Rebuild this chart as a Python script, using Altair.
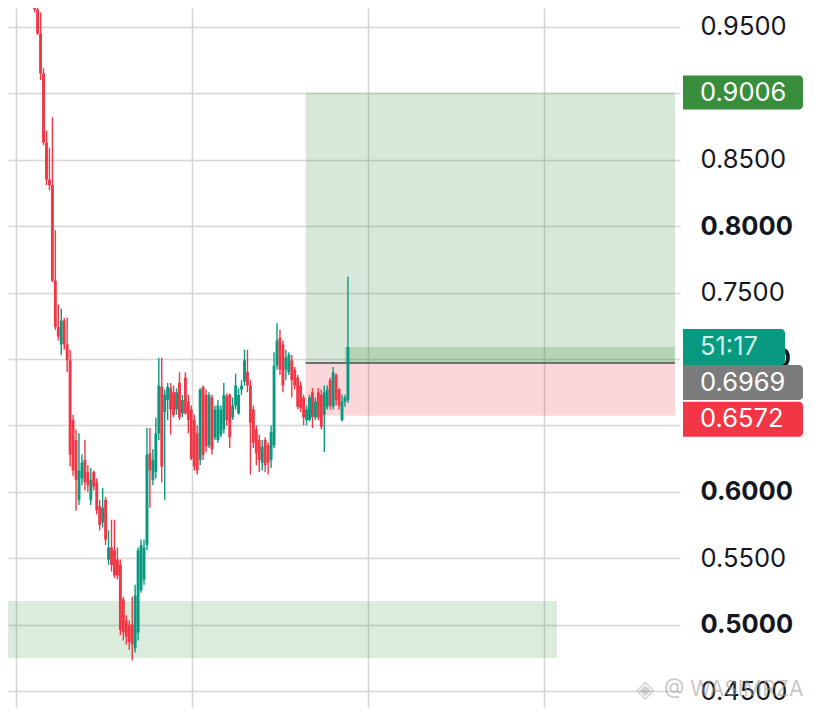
import altair as alt
import pandas as pd

# ---- candle data ----
opens = [0.993, 0.963, 0.945, 0.915, 0.863, 0.835, 0.831, 0.759, 0.724, 0.711,
         0.729, 0.711, 0.699, 0.654, 0.639, 0.594, 0.610, 0.624, 0.615, 0.594,
         0.615, 0.607, 0.589, 0.577, 0.594, 0.549, 0.558, 0.556, 0.549, 0.545,
         0.519, 0.503, 0.500, 0.500, 0.482, 0.494, 0.526, 0.534, 0.560, 0.629,
         0.609, 0.615, 0.644, 0.679, 0.660, 0.669, 0.678, 0.675, 0.662, 0.682,
         0.659, 0.686, 0.668, 0.662, 0.654, 0.644, 0.624, 0.679, 0.673, 0.635,
         0.671, 0.641, 0.639, 0.643, 0.647, 0.672, 0.673, 0.656, 0.665, 0.659,
         0.677, 0.683, 0.690, 0.680, 0.662, 0.647, 0.639, 0.622, 0.639, 0.635,
         0.624, 0.635, 0.695, 0.716, 0.711, 0.692, 0.690, 0.699, 0.692, 0.686,
         0.680, 0.671, 0.654, 0.654, 0.675, 0.656, 0.675, 0.673, 0.658, 0.664,
         0.684, 0.664, 0.688, 0.677, 0.654, 0.668, 0.669]
highs = [1.000, 0.967, 0.961, 0.919, 0.872, 0.859, 0.882, 0.797, 0.741, 0.738,
         0.731, 0.731, 0.707, 0.658, 0.647, 0.644, 0.628, 0.639, 0.620, 0.618,
         0.616, 0.610, 0.594, 0.603, 0.596, 0.571, 0.579, 0.579, 0.558, 0.549,
         0.521, 0.507, 0.503, 0.521, 0.530, 0.558, 0.564, 0.564, 0.648, 0.648,
         0.632, 0.656, 0.701, 0.701, 0.677, 0.682, 0.682, 0.680, 0.678, 0.690,
         0.673, 0.690, 0.673, 0.665, 0.658, 0.650, 0.678, 0.680, 0.677, 0.675,
         0.673, 0.665, 0.669, 0.665, 0.682, 0.674, 0.674, 0.671, 0.689, 0.678,
         0.684, 0.707, 0.707, 0.684, 0.665, 0.650, 0.643, 0.639, 0.641, 0.637,
         0.650, 0.705, 0.727, 0.722, 0.714, 0.707, 0.705, 0.703, 0.694, 0.688,
         0.683, 0.673, 0.665, 0.673, 0.678, 0.671, 0.678, 0.677, 0.680, 0.680,
         0.686, 0.694, 0.689, 0.678, 0.673, 0.673, 0.762]
lows = [0.961, 0.944, 0.910, 0.861, 0.831, 0.827, 0.758, 0.722, 0.714, 0.703,
        0.707, 0.690, 0.619, 0.612, 0.586, 0.590, 0.605, 0.601, 0.600, 0.590,
        0.601, 0.583, 0.571, 0.573, 0.560, 0.545, 0.540, 0.535, 0.534, 0.492,
        0.488, 0.485, 0.481, 0.473, 0.479, 0.488, 0.524, 0.530, 0.556, 0.588,
        0.605, 0.610, 0.639, 0.607, 0.594, 0.654, 0.643, 0.656, 0.658, 0.654,
        0.656, 0.658, 0.644, 0.624, 0.616, 0.613, 0.620, 0.624, 0.630, 0.633,
        0.628, 0.639, 0.637, 0.641, 0.644, 0.650, 0.633, 0.654, 0.662, 0.658,
        0.673, 0.680, 0.675, 0.613, 0.633, 0.620, 0.615, 0.616, 0.615, 0.613,
        0.618, 0.633, 0.692, 0.688, 0.675, 0.684, 0.688, 0.671, 0.677, 0.662,
        0.660, 0.650, 0.650, 0.653, 0.648, 0.654, 0.654, 0.647, 0.630, 0.662,
        0.662, 0.662, 0.665, 0.662, 0.653, 0.664, 0.667]
closes = [0.963, 0.945, 0.915, 0.863, 0.835, 0.831, 0.759, 0.724, 0.717, 0.729,
          0.711, 0.699, 0.628, 0.616, 0.609, 0.616, 0.622, 0.607, 0.605, 0.609,
          0.604, 0.586, 0.575, 0.588, 0.564, 0.558, 0.545, 0.537, 0.537, 0.496,
          0.494, 0.491, 0.487, 0.485, 0.522, 0.556, 0.560, 0.558, 0.628, 0.616,
          0.624, 0.644, 0.680, 0.619, 0.673, 0.679, 0.662, 0.658, 0.675, 0.656,
          0.669, 0.659, 0.654, 0.625, 0.619, 0.616, 0.677, 0.628, 0.634, 0.673,
          0.632, 0.662, 0.665, 0.662, 0.673, 0.654, 0.641, 0.665, 0.680, 0.673,
          0.680, 0.699, 0.680, 0.652, 0.637, 0.629, 0.624, 0.634, 0.620, 0.622,
          0.645, 0.695, 0.714, 0.692, 0.680, 0.701, 0.703, 0.684, 0.680, 0.664,
          0.663, 0.656, 0.662, 0.671, 0.656, 0.668, 0.656, 0.649, 0.675, 0.677,
          0.665, 0.690, 0.669, 0.665, 0.668, 0.671, 0.709]

price_ticks = [0.45, 0.5, 0.55, 0.6, 0.65, 0.7, 0.75, 0.8, 0.85, 0.9, 0.95]
bold_labels = ["0.8000", "0.7000", "0.6000", "0.5000"]
time_grid = [-6.33, 53.33, 112.67, 172.33]
x_domain = [-7.33, 216.67]
y_domain = [0.4372, 0.9643]

target_price = 0.9006
entry_price = 0.6969
stop_price = 0.6572
position_start = 91.67
fill_start = 105
support_low = 0.4749
support_high = 0.5178
support_start = -10
support_end = 176.67
countdown = "51:17"
watermark = "@ WASIMRZA"

GREEN = "#089981"
RED = "#f23645"
GRID = "#d6d6d6"

candles = pd.DataFrame({
    "i": list(range(len(opens))),
    "open": opens, "high": highs, "low": lows, "close": closes,
})

xs = alt.Scale(domain=x_domain, nice=False, zero=False)
ys = alt.Scale(domain=y_domain, nice=False, zero=False)

x_axis = alt.Axis(values=time_grid, labels=False, ticks=False, domain=False,
                  grid=True, gridColor=GRID, gridWidth=1.6, title=None)
y_axis = alt.Axis(orient="right", values=price_ticks, format=".4f", title=None,
                  domain=False, ticks=False, grid=True, gridColor=GRID, gridWidth=1.6,
                  labelFont="Inter", labelFontSize=25.5, labelColor="#131722",
                  labelPadding=20, labelAlign="left", labelBaseline="middle",
                  labelFontWeight={"condition": {"test": "indexof(" + str(bold_labels) + ", datum.label) >= 0",
                                                 "value": "bold"}, "value": "normal"})


def zone(x0, x1, p0, p1, fill, opacity):
    d = pd.DataFrame({"x": [x0], "x2": [x1], "y": [p0], "y2": [p1]})
    return alt.Chart(d).mark_rect(clip=True, fill=fill, opacity=opacity).encode(
        x=alt.X("x:Q", scale=xs, axis=x_axis), x2="x2:Q",
        y=alt.Y("y:Q", scale=ys, axis=y_axis), y2="y2:Q",
    )


zones = (
    zone(support_start, support_end, support_low, support_high, "#388e3c", 0.18)
    + zone(position_start, x_domain[1], entry_price, target_price, "#388e3c", 0.2)
    + zone(position_start, x_domain[1], stop_price, entry_price, RED, 0.2)
    + zone(fill_start, x_domain[1], entry_price, closes[-1], "#388e3c", 0.22)
)

entry_df = pd.DataFrame({"x": [position_start], "x2": [x_domain[1]], "y": [entry_price]})
entry_line = alt.Chart(entry_df).mark_rule(color="#6f6f6f", strokeWidth=2, clip=True).encode(
    x=alt.X("x:Q", scale=xs, axis=x_axis), x2="x2:Q",
    y=alt.Y("y:Q", scale=ys, axis=y_axis),
)

candle_color = alt.condition("datum.close >= datum.open", alt.value(GREEN), alt.value(RED))

wicks = alt.Chart(candles).mark_rule(strokeWidth=1.4, clip=True).encode(
    x=alt.X("i:Q", scale=xs, axis=x_axis),
    y=alt.Y("low:Q", scale=ys, axis=y_axis),
    y2="high:Q",
    color=candle_color,
)
bodies = alt.Chart(candles).mark_bar(size=2.9, clip=True).encode(
    x=alt.X("i:Q", scale=xs, axis=x_axis),
    y=alt.Y("open:Q", scale=ys, axis=y_axis),
    y2="close:Q",
    color=candle_color,
)


def tag(price, text, fill, text_color, right_px, top_off, bottom_off, dy):
    d = pd.DataFrame({"y": [price], "t": [text]})
    box = alt.Chart(d).mark_rect(fill=fill, yOffset=top_off, y2Offset=bottom_off,
                                 cornerRadiusTopRight=4, cornerRadiusBottomRight=4,
                                 clip=False).encode(
        x=alt.value(675), x2=alt.value(right_px),
        y=alt.Y("y:Q", scale=ys, axis=y_axis), y2="y:Q",
    )
    txt = alt.Chart(d).mark_text(align="left", baseline="middle", font="Inter",
                                 fontSize=25.5, color=text_color, dy=dy, clip=False).encode(
        x=alt.value(692), y=alt.Y("y:Q", scale=ys, axis=y_axis), text="t:N",
    )
    return box + txt


tags = (
    tag(target_price, f"{target_price:.4f}", "#388e3c", "#ffffff", 795, -17, 17, 0)
    + tag(closes[-1], countdown, GREEN, "#cdeee6", 777, -18, 18, 0)
    + tag(entry_price, f"{entry_price:.4f}", "#7b7b7b", "#ffffff", 795, 2, 37, 19.5)
    + tag(stop_price, f"{stop_price:.4f}", RED, "#ffffff", 795, -14, 21, 3.5)
)

wm = alt.Chart(pd.DataFrame({"t": [watermark]})).mark_text(
    align="left", baseline="middle", font="Inter", fontSize=21, color="#9a9a9a",
    opacity=0.55, clip=False).encode(x=alt.value(656), y=alt.value(682), text="t:N")
wm_logo = alt.Chart(pd.DataFrame({"t": ["◈"]})).mark_text(
    align="left", baseline="middle", font="DejaVu Sans", fontSize=24, color="#9a9a9a",
    opacity=0.45, clip=False).encode(x=alt.value(628), y=alt.value(682), text="t:N")

chart = alt.layer(zones, entry_line, wicks, bodies, tags, wm_logo, wm).properties(
    width=672, height=700,
    autosize=alt.AutoSizeParams(type="none"),
    padding={"left": 0, "top": 0, "right": 140, "bottom": 0},
    background="#ffffff",
).configure_view(stroke=None)

chart.save("out.html", embed_options={"renderer": "svg", "actions": False})
